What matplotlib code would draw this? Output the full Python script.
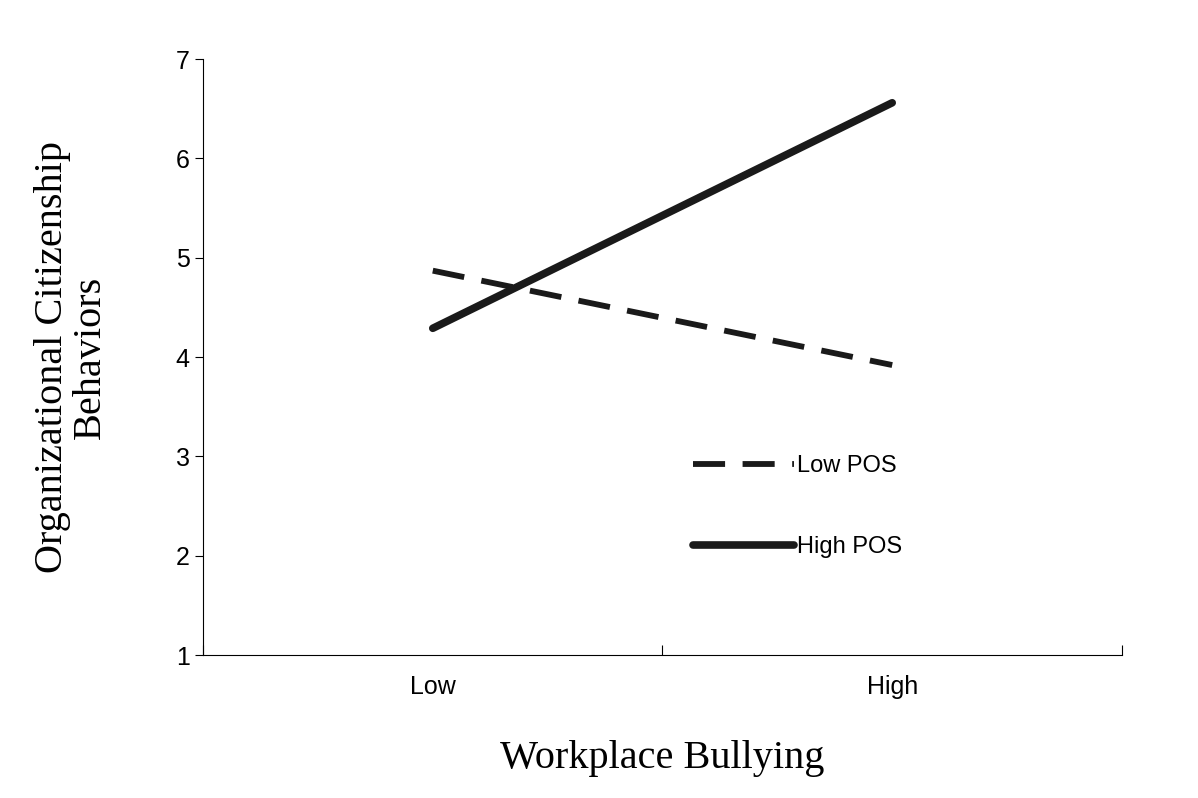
import matplotlib
matplotlib.use("Agg")
import matplotlib.pyplot as plt

categories = ["Low", "High"]
low_pos = [4.87, 3.92]
high_pos = [4.29, 6.56]

fig = plt.figure(figsize=(11.98, 7.98), dpi=100)
ax = fig.add_axes([0.1695, 0.179, 0.767, 0.747])

xs = [0.5, 1.5]
ax.plot(xs, low_pos, color="#1a1a1a", linewidth=4.2, dashes=(5.5, 3), label="Low POS")
ax.plot(xs, high_pos, color="#1a1a1a", linewidth=5.5, solid_capstyle="round", label="High POS")

ax.set_xlim(0, 2)
ax.set_ylim(1, 7)
ax.set_xticks([0, 1, 2])
ax.set_xticklabels([])
ax.set_xticks(xs, minor=True)
ax.set_xticklabels(categories, minor=True, fontsize=18, family="Liberation Sans")
ax.tick_params(axis="x", which="minor", length=0, pad=14)
ax.tick_params(axis="x", which="major", length=7, direction="in")
ax.set_yticks(range(1, 8))
ax.tick_params(axis="y", labelsize=18, length=6)
for lab in ax.get_yticklabels():
    lab.set_family("Liberation Sans")
for s in ["top", "right"]:
    ax.spines[s].set_visible(False)

ax.set_xlabel("Workplace Bullying", fontsize=29, family="Liberation Serif", labelpad=30)
ax.set_ylabel("Organizational Citizenship\nBehaviors", fontsize=29, family="Liberation Serif",
              labelpad=48, linespacing=1.05)

ax.legend(loc="upper left", bbox_to_anchor=(0.52, 0.355), frameon=False, borderpad=0,
          prop={"family": "Liberation Sans", "size": 17},
          labelspacing=2.5, handlelength=4.3, handletextpad=0.1)

fig.savefig("out.png", dpi=100)
